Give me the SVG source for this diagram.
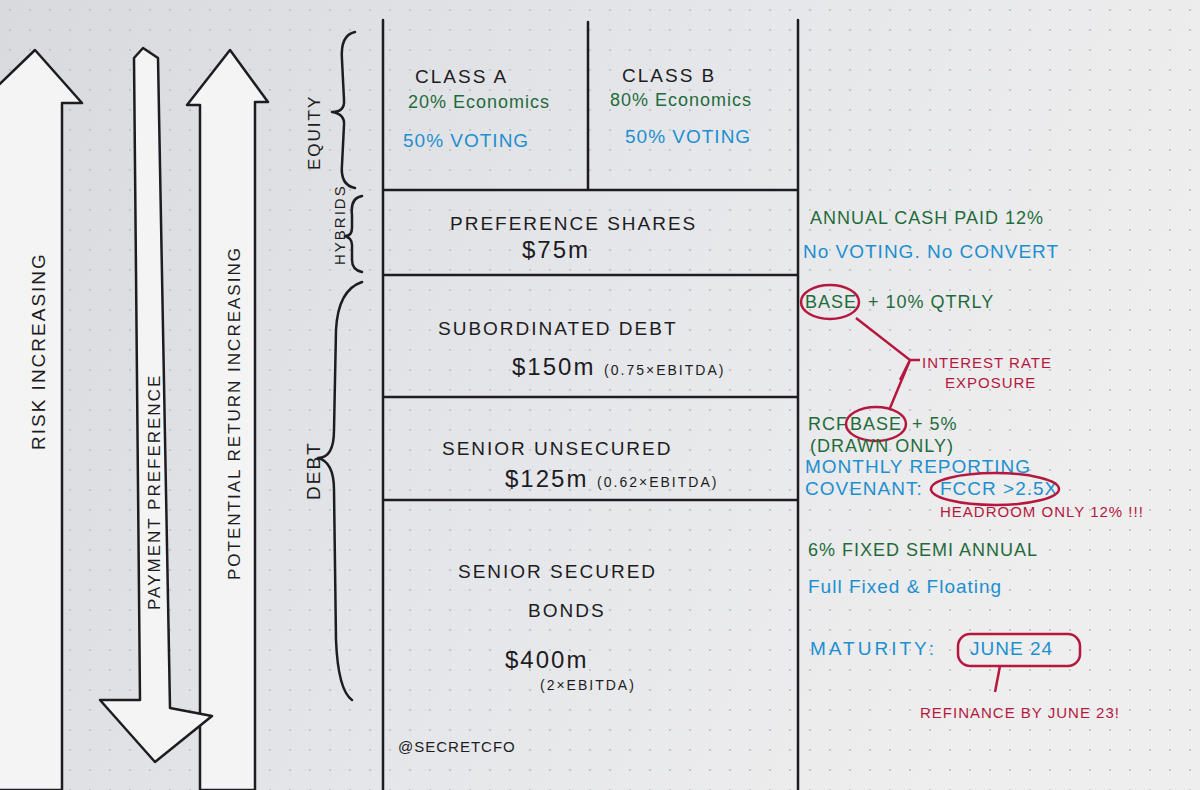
<svg xmlns="http://www.w3.org/2000/svg" width="1200" height="790" viewBox="0 0 1200 790">
<defs>
<linearGradient id="bg" x1="0" y1="0" x2="1" y2="0.3">
<stop offset="0" stop-color="#d9dadd"/><stop offset="0.6" stop-color="#e6e7ea"/><stop offset="1" stop-color="#eeeeee"/>
</linearGradient>
<pattern id="dots" width="20" height="20" patternUnits="userSpaceOnUse"><circle cx="10" cy="10" r="0.9" fill="#b8b9bd"/></pattern>
</defs>
<style>
.ln{fill:none;stroke:#1c1c22;stroke-width:2.5;stroke-linejoin:round;stroke-linecap:round}
.arr{fill:#f4f4f4;stroke:#1c1c22;stroke-width:2.5;stroke-linejoin:round}
.k{font-family:"Liberation Sans",sans-serif;fill:#1c1c22;font-size:19px;letter-spacing:2px}
.g{font-family:"Liberation Sans",sans-serif;fill:#1f6b3b;font-size:18px;letter-spacing:1px}
.b{font-family:"Liberation Sans",sans-serif;fill:#1d8fd0;font-size:19px;letter-spacing:1px}
.r{font-family:"Liberation Sans",sans-serif;fill:#b5173f;font-size:15px;letter-spacing:1px}
.big{font-size:24px}
.rl{fill:none;stroke:#b5173f;stroke-width:2.5}
</style>
<rect width="1200" height="790" fill="url(#bg)"/>
<rect width="1200" height="790" fill="url(#dots)"/>

<g id="arrows">
<polygon class="arr" points="-5,790 -5,105 -22,105 35,50 82,103 62,103 62,790"/>
<text class="k" transform="translate(45,450) rotate(-90)">RISK INCREASING</text>
<polygon class="arr" points="200,790 200,105 187,105 230,50 268,102 255,102 255,790"/>
<text class="k" transform="translate(240,580) rotate(-90)" style="font-size:17px">POTENTIAL RETURN INCREASING</text>
<polygon class="arr" points="143,48 134,58 140,700 100,700 155,762 212,716 170,708 158,58"/>
<text class="k" transform="translate(160,610) rotate(-90)" style="font-size:17px">PAYMENT PREFERENCE</text>
</g>

<g id="braces">
<path class="ln" d="M355,32 Q340,35 342,60 L344,100 Q345,112 332,112 Q345,114 344,125 L342,165 Q340,185 355,188"/>
<text class="k" transform="translate(320,170) rotate(-90)" style="font-size:17px">EQUITY</text>
<path class="ln" d="M362,196 Q350,198 352,215 L352,228 Q352,236 345,236 Q352,238 352,245 L352,260 Q352,270 362,272"/>
<text class="k" transform="translate(345,265) rotate(-90)" style="font-size:15px">HYBRIDS</text>
<path class="ln" d="M362,282 Q338,290 336,330 L334,430 Q334,458 318,458 Q334,462 334,490 L336,640 Q338,690 352,700"/>
<text class="k" transform="translate(320,500) rotate(-90)" style="font-size:19px">DEBT</text>
</g>

<g id="structure">
<path class="ln" d="M383,20 L383,790 M798,20 L798,790 M383,190 L798,190 M588,22 L588,190 M383,275 L798,275 M383,397 L798,397 M383,500 L798,500"/>
</g>

<g id="equity-a">
<text class="k" x="415" y="83">CLASS A</text>
<text class="g" x="408" y="108">20% Economics</text>
<text class="b" x="403" y="147">50% VOTING</text>
</g>
<g id="equity-b">
<text class="k" x="622" y="82">CLASS B</text>
<text class="g" x="610" y="106">80% Economics</text>
<text class="b" x="625" y="143">50% VOTING</text>
</g>
<g id="pref">
<text class="k" x="450" y="230">PREFERENCE SHARES</text>
<text class="k big" x="522" y="258">$75m</text>
</g>
<g id="sub">
<text class="k" x="438" y="335">SUBORDINATED DEBT</text>
<text class="k big" x="512" y="375">$150m <tspan style="font-size:14px">(0.75×EBITDA)</tspan></text>
</g>
<g id="unsec">
<text class="k" x="442" y="455">SENIOR UNSECURED</text>
<text class="k big" x="505" y="487">$125m <tspan style="font-size:14px">(0.62×EBITDA)</tspan></text>
</g>
<g id="sec">
<text class="k" x="458" y="578">SENIOR SECURED</text>
<text class="k" x="528" y="617">BONDS</text>
<text class="k big" x="505" y="668">$400m</text>
<text class="k" x="540" y="690" style="font-size:14px">(2×EBITDA)</text>
<text class="k" x="398" y="752" style="font-size:15px;letter-spacing:1px">@SECRETCFO</text>
</g>

<g id="notes">
<text class="g" x="810" y="224">ANNUAL CASH PAID 12%</text>
<text class="b" x="803" y="258">No VOTING. No CONVERT</text>
<text class="g" x="805" y="308">BASE<tspan x="868">+ 10% QTRLY</tspan></text>
<ellipse class="rl" cx="830" cy="302" rx="29" ry="17"/>
<text class="r" x="922" y="368">INTEREST RATE</text>
<text class="r" x="945" y="388">EXPOSURE</text>
<path class="rl" d="M856,318 L910,360 L900,380 M910,360 L920,360 M890,408 L910,360"/>
<text class="g" x="808" y="430">RCF<tspan x="850">BASE</tspan><tspan x="912">+ 5%</tspan></text>
<ellipse class="rl" cx="876" cy="424" rx="30" ry="17"/>
<text class="g" x="810" y="452">(DRAWN ONLY)</text>
<text class="b" x="805" y="473">MONTHLY REPORTING</text>
<text class="b" x="805" y="495">COVENANT:<tspan x="940">FCCR &gt;2.5X</tspan></text>
<ellipse class="rl" cx="995" cy="489" rx="64" ry="16"/>
<text class="r" x="940" y="517">HEADROOM ONLY 12% !!!</text>
<text class="g" x="808" y="556">6% FIXED SEMI ANNUAL</text>
<text class="b" x="808" y="593">Full Fixed &amp; Floating</text>
<text class="b" x="810" y="655" style="letter-spacing:3px">MATURITY:<tspan x="970" style="letter-spacing:1px">JUNE 24</tspan></text>
<rect class="rl" x="958" y="634" width="122" height="32" rx="12"/>
<path class="rl" d="M1000,666 L995,692"/>
<text class="r" x="920" y="718">REFINANCE BY JUNE 23!</text>
</g>
</svg>
